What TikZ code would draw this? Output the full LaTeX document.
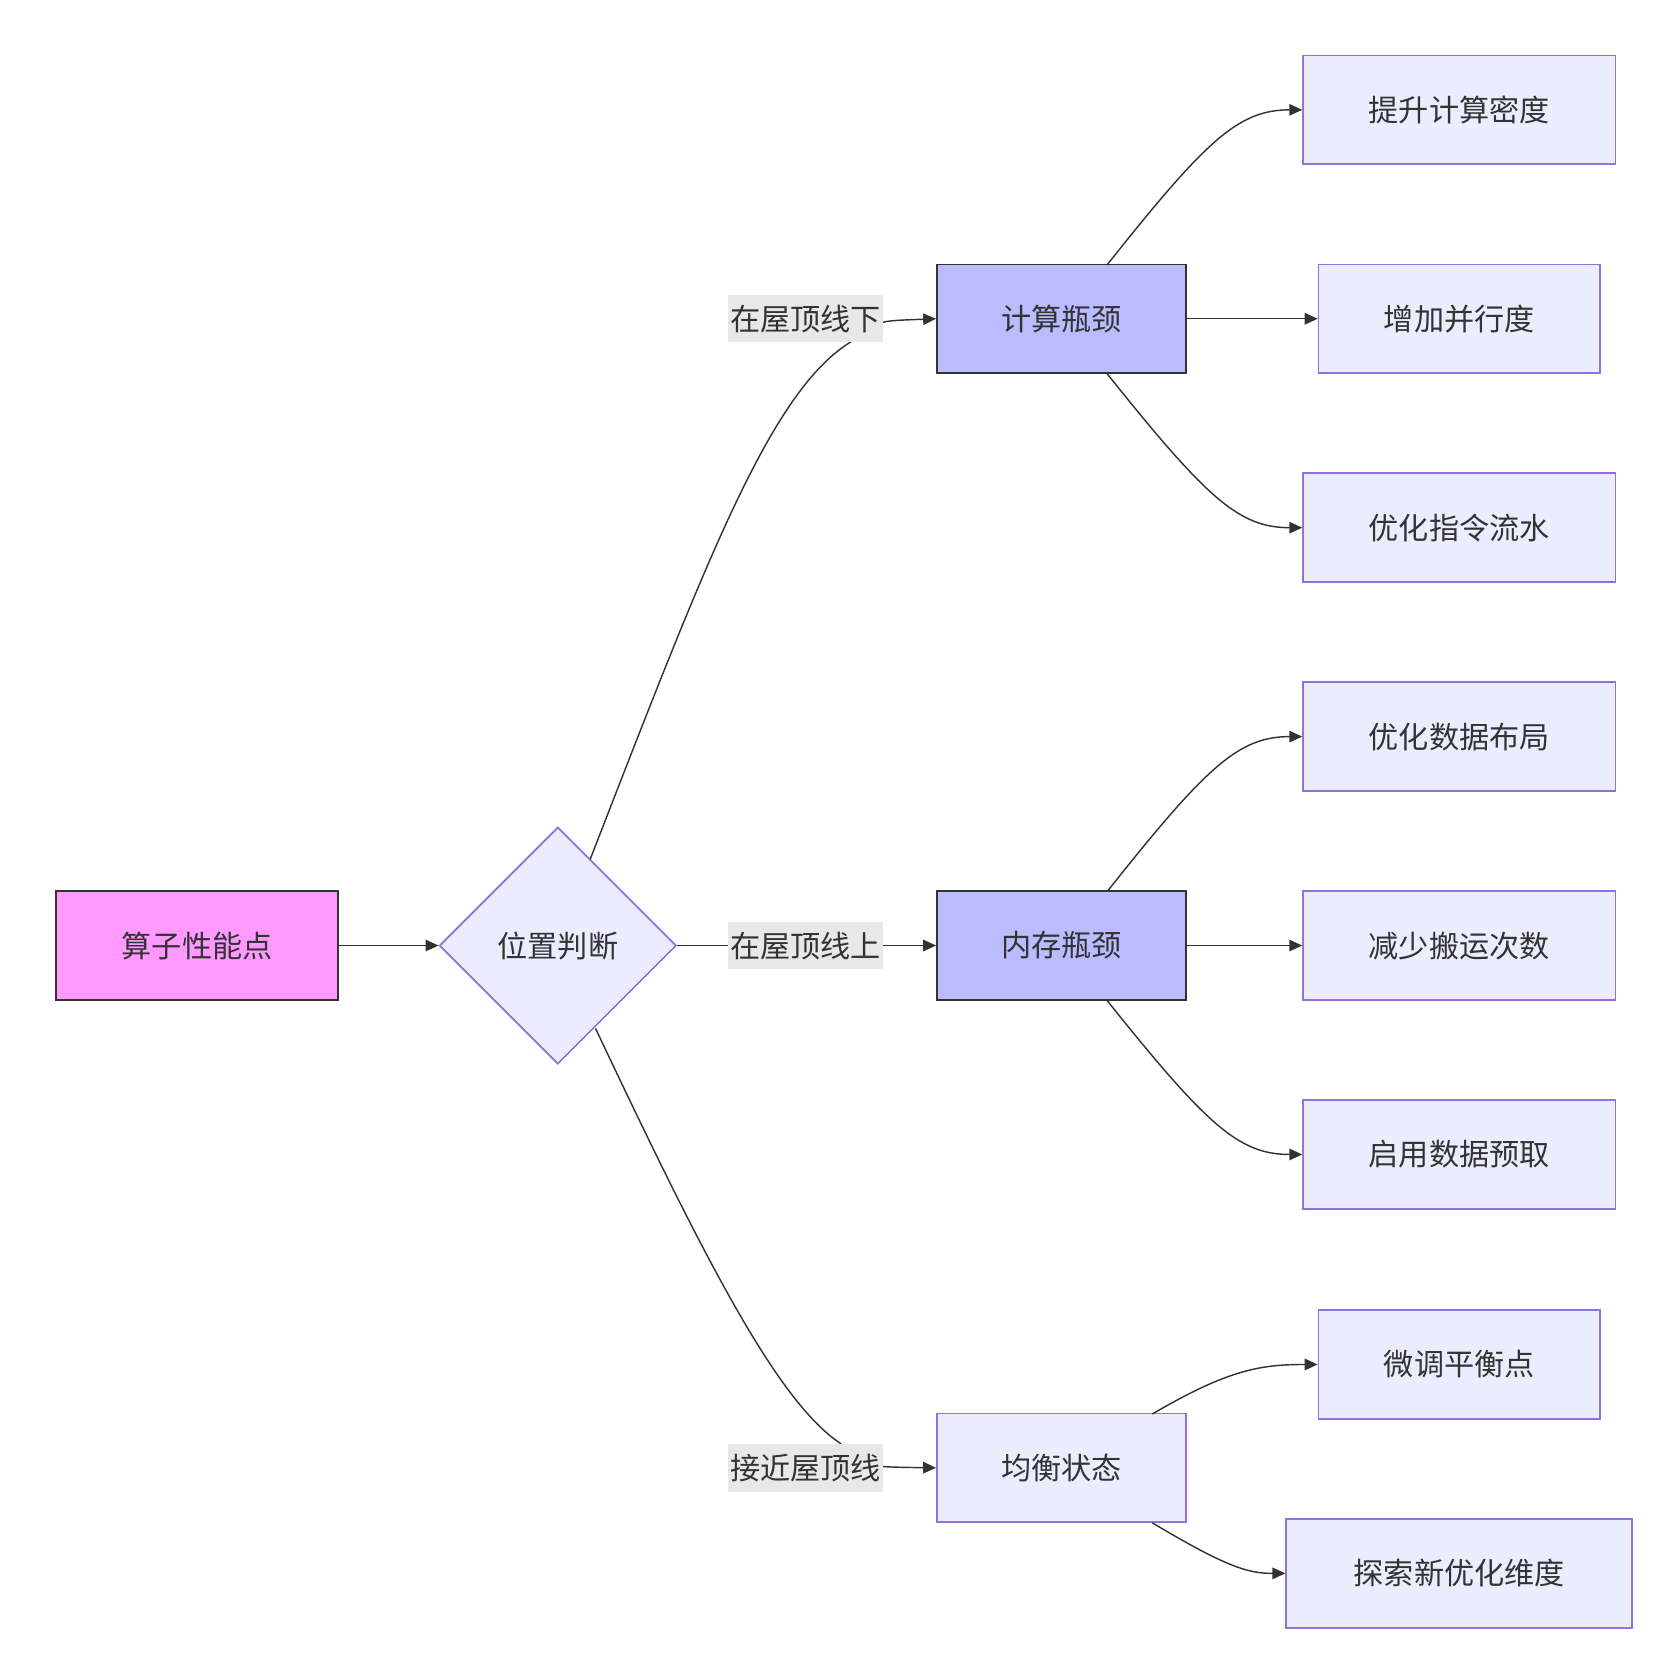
\documentclass[tikz,border=0pt]{standalone}
\usepackage{fontspec}
\newfontfamily\cjk{Noto Sans CJK SC}
\usetikzlibrary{shapes.geometric,arrows.meta}
\definecolor{nfill}{HTML}{ECECFF}
\definecolor{nline}{HTML}{9370DB}
\definecolor{ink}{HTML}{333333}
\definecolor{pinkf}{HTML}{FF99FF}
\definecolor{bluef}{HTML}{BBBBFF}
\begin{document}
\begin{tikzpicture}[x=0.75pt,y=-0.75pt,
 every node/.style={font=\cjk\fontsize{21}{25}\selectfont,text=ink},
 box/.style={draw=nline,fill=nfill,line width=1.2pt,minimum height=75.75pt,inner sep=0pt},
 dark/.style={draw=ink,fill=#1,line width=1.2pt,minimum height=75.75pt,minimum width=173.25pt,inner sep=0pt},
 lab/.style={fill=black!9,inner sep=1.5pt,minimum height=33pt},
 ar/.style={draw=ink,line width=1pt,-{Triangle[length=9pt,width=8pt]}}]
\useasboundingbox (0,0) rectangle (1560,1555);
\node[dark=pinkf, minimum width=196pt] (src) at (183,878) {算子性能点};
\node[box,diamond,aspect=1,minimum width=165pt,minimum height=165pt] (pos) at (518,878) {位置判断};
\node[dark=bluef] (cb) at (985.5,296) {计算瓶颈};
\node[dark=bluef] (mb) at (985.5,878) {内存瓶颈};
\node[box,minimum width=173.25pt] (bal) at (985.5,1363) {均衡状态};
\node[box,minimum width=217.5pt] (r1) at (1355,102) {提升计算密度};
\node[box,minimum width=196pt] (r2) at (1355,296) {增加并行度};
\node[box,minimum width=217.5pt] (r3) at (1355,490) {优化指令流水};
\node[box,minimum width=217.5pt] (r4) at (1355,684) {优化数据布局};
\node[box,minimum width=217.5pt] (r5) at (1355,878) {减少搬运次数};
\node[box,minimum width=217.5pt] (r6) at (1355,1072) {启用数据预取};
\node[box,minimum width=196pt] (r7) at (1355,1267) {微调平衡点};
\node[box,minimum width=241pt] (r8) at (1355,1461) {探索新优化维度};
\coordinate (p1) at (548,798);
\coordinate (p3) at (553,955);
\draw[ar] (src.east) -- (pos.west);
\draw[ar] (p1) .. controls (660,510) and (720,350) .. (800,312) .. controls (815,298) .. (cb.west);
\draw[ar] (pos.east) -- (mb.west);
\draw[ar] (p3) .. controls (650,1160) and (720,1300) .. (780,1340) .. controls (800,1362) .. (bal.west);
\node[lab] at (748,296) {在屋顶线下};
\node[lab] at (748,878) {在屋顶线上};
\node[lab] at (748,1363) {接近屋顶线};
\coordinate (ct) at (1028,246); \coordinate (cbt) at (1028,347);
\coordinate (mt) at (1028,828); \coordinate (mbt) at (1028,929);
\coordinate (bt) at (1070,1313); \coordinate (bb) at (1070,1414);
\draw[ar] (ct) .. controls (1120,130) and (1150,102) .. (r1.west);
\draw[ar] (cb.east) -- (r2.west);
\draw[ar] (cbt) .. controls (1120,462) and (1150,490) .. (r3.west);
\draw[ar] (mt) .. controls (1120,712) and (1150,684) .. (r4.west);
\draw[ar] (mb.east) -- (r5.west);
\draw[ar] (mbt) .. controls (1120,1044) and (1150,1072) .. (r6.west);
\draw[ar] (bt) .. controls (1140,1272) and (1170,1267) .. (r7.west);
\draw[ar] (bb) .. controls (1140,1456) and (1160,1461) .. (r8.west);
\end{tikzpicture}
\end{document}
